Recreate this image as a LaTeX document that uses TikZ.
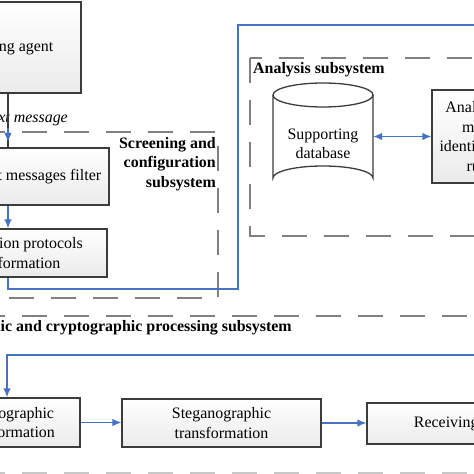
\documentclass[tikz,border=0pt]{standalone}
\usepackage{fontspec}
\setmainfont{Liberation Serif}
\usetikzlibrary{arrows.meta}
\definecolor{linkblue}{HTML}{4472C4}
\definecolor{boxgray}{HTML}{3C3C3C}
\definecolor{dashgray}{HTML}{808080}
\begin{document}
\begin{tikzpicture}[x=1bp,y=-1bp,
  every node/.style={font=\fontsize{16}{19.5}\selectfont},
  box/.style={draw=boxgray, line width=1.3bp, top color=white, bottom color=black!8,
    align=center, inner sep=0pt},
  conn/.style={draw=linkblue, line width=1.3bp},
  arr/.style={conn, -{Latex[length=9bp,width=7.5bp]}},
  darr/.style={conn, {Latex[length=9bp,width=7.5bp]}-{Latex[length=9bp,width=7.5bp]}},
  subbox/.style={draw=dashgray, line width=1.5bp, dash pattern=on 25bp off 17bp},
  sublabel/.style={font=\fontsize{16}{19.5}\selectfont\bfseries, inner sep=0pt}]
\useasboundingbox (0,0) rectangle (474,474);
\clip (0,0) rectangle (474,474);

% subsystem frames
\draw[subbox] (-20,132) -- (218,132) -- (218,298) -- (-20,298);
\draw[subbox] (250,58) rectangle (540,236);
\draw[subbox] (-20,316) -- (540,316);
\draw[subbox, draw=black!22] (-20,473) -- (540,473);

% labels
\node[sublabel, align=right, anchor=east] (lscr) at (216,164) {Screening and\\configuration\\subsystem};
\node[sublabel, anchor=west] (lana) at (253,70) {Analysis subsystem};
\node[sublabel, anchor=east] (lcry) at (292,328) {Steganographic and cryptographic processing subsystem};

% top-left column
\node[box, minimum width=146bp, minimum height=91bp] (agent) at (8,47.5) {Sending agent};
\node[box, minimum width=143bp, minimum height=57bp] (filter) at (37.5,176.5) {Text messages filter};
\node[box, minimum width=187bp, minimum height=48bp] (proto) at (13.5,253) {Application protocols\\transformation};
\node[font=\fontsize{16}{19.5}\selectfont\itshape, anchor=east, inner sep=0pt] (lmsg) at (68,119) {Text message};

\coordinate (tipB) at (8,128);
\coordinate (tipA) at (8,142);
\draw[line width=1.3bp, boxgray] (agent.south) -- (agent.south |- filter.north);
\draw[arr] (tipB) -- (tipA);
\draw[arr] (agent.south |- filter.south) -- (agent.south |- proto.north);

% analysis subsystem
\node[minimum width=100bp, minimum height=107bp, inner sep=0pt] (db) at (323,136.5) {};
\draw[line width=1.3bp, boxgray, fill=white]
  (273,95) -- (273,178) arc[start angle=180, end angle=360, x radius=50, y radius=12]
  -- (373,95) arc[start angle=0, end angle=-180, x radius=50, y radius=12] -- cycle;
\draw[line width=1.3bp, boxgray] (273,95) arc[start angle=180, end angle=360, x radius=50, y radius=-12];
\node[align=center, inner sep=0pt] (dbt) at (323,144) {Supporting\\database};
\node[box, minimum width=100bp, minimum height=93bp] (ana) at (482,136.5) {Analysis of\\model\\identification\\rules};
\draw[darr] (db.east) -- (ana.west);

% bottom row
\node[box, minimum width=144bp, minimum height=49bp] (crypto) at (8,422.5) {Cryptographic\\transformation};
\node[box, minimum width=199bp, minimum height=48bp] (steg) at (221.5,423) {Steganographic\\transformation};
\node[box, minimum width=197bp, minimum height=41bp] (recv) at (465.5,423.5) {Receiving agent};
\draw[arr] (crypto.east) -- (crypto.east -| steg.west);
\draw[arr] (steg.east) -- (steg.east -| recv.west);

% big feedback loop
\coordinate (c1) at (8,289);
\coordinate (c2) at (238,289);
\coordinate (c3) at (238,25);
\coordinate (c4) at (540,25);
\coordinate (c5) at (540,355);
\coordinate (c6) at (7,355);
\draw[arr] (proto.south -| tipA) -- (c1) -- (c2) -- (c3) -- (c4) -- (c5) -- (c6) -- (c6 |- crypto.north);
\end{tikzpicture}
\end{document}
